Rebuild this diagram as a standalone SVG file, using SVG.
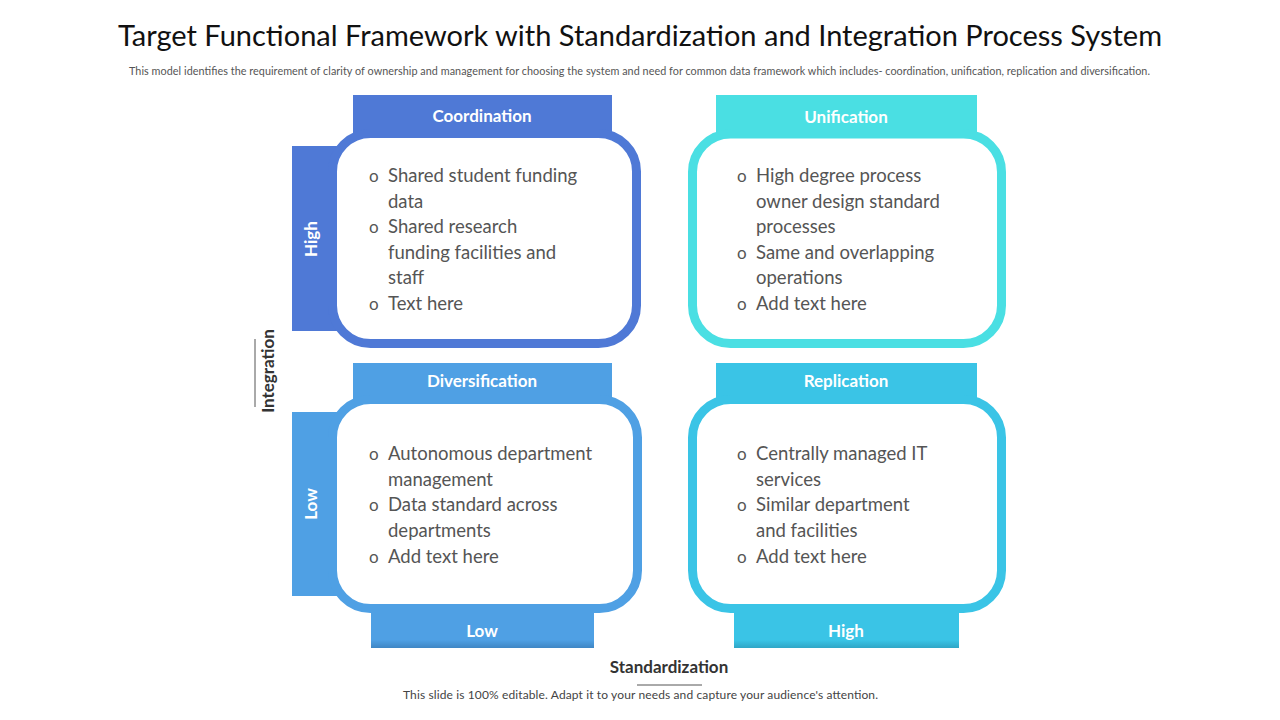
<svg xmlns="http://www.w3.org/2000/svg" width="1280" height="720" viewBox="0 0 1280 720">
<defs>
<linearGradient id="gDiv" x1="0" y1="0" x2="0" y2="1">
<stop offset="0" stop-color="#4FA0E4"/><stop offset="0.85" stop-color="#4FA0E4"/><stop offset="1" stop-color="#3F86C4"/>
</linearGradient>
<linearGradient id="gRep" x1="0" y1="0" x2="0" y2="1">
<stop offset="0" stop-color="#3AC4E6"/><stop offset="0.85" stop-color="#3AC4E6"/><stop offset="1" stop-color="#2FA6C6"/>
</linearGradient>
<style>
.title{font-family:"Lato","Liberation Sans",sans-serif;font-size:29px;fill:#111;}
.sub{font-family:"Lato","Liberation Sans",sans-serif;font-size:10.8px;fill:#555;}
.body{font-family:"Lato","Liberation Sans",sans-serif;font-size:18.5px;fill:#555;}
.bul{font-family:"Lato","Liberation Sans",sans-serif;font-size:17px;fill:#555;}
.tab{font-family:"Lato","Liberation Sans",sans-serif;font-size:17px;font-weight:bold;fill:#fff;}
.axis{font-family:"Lato","Liberation Sans",sans-serif;font-size:17px;font-weight:bold;fill:#333;}
.foot{font-family:"Lato","Liberation Sans",sans-serif;font-size:12px;fill:#444;}
.box{fill:#fff;stroke-width:9;}
</style>
</defs>
<rect width="1280" height="720" fill="#fff"/>
<text class="title" x="640" y="46" text-anchor="middle">Target Functional Framework with Standardization and Integration Process System</text>
<text class="sub" x="129" y="75" textLength="1021" lengthAdjust="spacing">This model identifies the requirement of clarity of ownership and management  for choosing the system and need for common data framework which includes- coordination, unification, replication and diversification.</text>

<g id="coordination">
<rect x="353" y="95" width="259" height="50" fill="#4F79D6"/>
<rect x="292" y="146" width="45" height="185" fill="#4F79D6"/>
<rect class="box" x="332.5" y="133.5" width="304" height="210" rx="38" stroke="#4F79D6"/>
<text class="tab" x="482" y="122" text-anchor="middle">Coordination</text>
<text class="tab" transform="translate(317 239) rotate(-90)" text-anchor="middle">High</text>
<g class="bul"><text x="369" y="182">o</text><text x="369" y="233">o</text><text x="369" y="310">o</text></g>
<g class="body">
<text x="388" y="182">Shared student funding</text>
<text x="388" y="208">data</text>
<text x="388" y="233">Shared research</text>
<text x="388" y="259">funding facilities and</text>
<text x="388" y="284">staff</text>
<text x="388" y="310">Text here</text>
</g>
</g>

<g id="unification">
<rect x="716" y="95" width="261" height="50" fill="#4ADFE3"/>
<rect class="box" x="692.5" y="134" width="309" height="209.5" rx="38" stroke="#4ADFE3"/>
<text class="tab" x="846" y="123" text-anchor="middle">Unification</text>
<g class="bul"><text x="737" y="182">o</text><text x="737" y="259">o</text><text x="737" y="310">o</text></g>
<g class="body">
<text x="756" y="182">High degree process</text>
<text x="756" y="208">owner design standard</text>
<text x="756" y="233">processes</text>
<text x="756" y="259">Same and overlapping</text>
<text x="756" y="284">operations</text>
<text x="756" y="310">Add text here</text>
</g>
</g>

<g id="diversification">
<rect x="353" y="363" width="259" height="50" fill="#4FA0E4"/>
<rect x="292" y="412" width="45" height="184" fill="#4FA0E4"/>
<rect x="371" y="595" width="223" height="53" fill="url(#gDiv)"/>
<rect class="box" x="332.5" y="399.5" width="305" height="209" rx="38" stroke="#4FA0E4"/>
<text class="tab" x="482" y="387" text-anchor="middle">Diversification</text>
<text class="tab" transform="translate(317 504) rotate(-90)" text-anchor="middle">Low</text>
<text class="tab" x="482" y="637" text-anchor="middle">Low</text>
<g class="bul"><text x="369" y="460">o</text><text x="369" y="511">o</text><text x="369" y="563">o</text></g>
<g class="body">
<text x="388" y="460">Autonomous department</text>
<text x="388" y="486">management</text>
<text x="388" y="511">Data standard across</text>
<text x="388" y="537">departments</text>
<text x="388" y="563">Add text here</text>
</g>
</g>

<g id="replication">
<rect x="716" y="363" width="261" height="50" fill="#3AC4E6"/>
<rect x="734" y="595" width="225" height="53" fill="url(#gRep)"/>
<rect class="box" x="692.5" y="399.5" width="309" height="209" rx="38" stroke="#3AC4E6"/>
<text class="tab" x="846" y="387" text-anchor="middle">Replication</text>
<text class="tab" x="846" y="637" text-anchor="middle">High</text>
<g class="bul"><text x="737" y="460">o</text><text x="737" y="511">o</text><text x="737" y="563">o</text></g>
<g class="body">
<text x="756" y="460">Centrally managed IT</text>
<text x="756" y="486">services</text>
<text x="756" y="511">Similar department</text>
<text x="756" y="537">and facilities</text>
<text x="756" y="563">Add text here</text>
</g>
</g>

<g id="axes">
<line x1="255" y1="339" x2="255" y2="407" stroke="#555" stroke-width="1"/>
<text class="axis" transform="translate(274 371) rotate(-90)" text-anchor="middle">Integration</text>
<line x1="637" y1="685" x2="702" y2="685" stroke="#555" stroke-width="1"/>
<text class="axis" x="669" y="673" text-anchor="middle">Standardization</text>
</g>
<text class="foot" x="403" y="699" textLength="475" lengthAdjust="spacing">This slide is 100% editable. Adapt it to your needs and capture  your audience's attention.</text>
</svg>
